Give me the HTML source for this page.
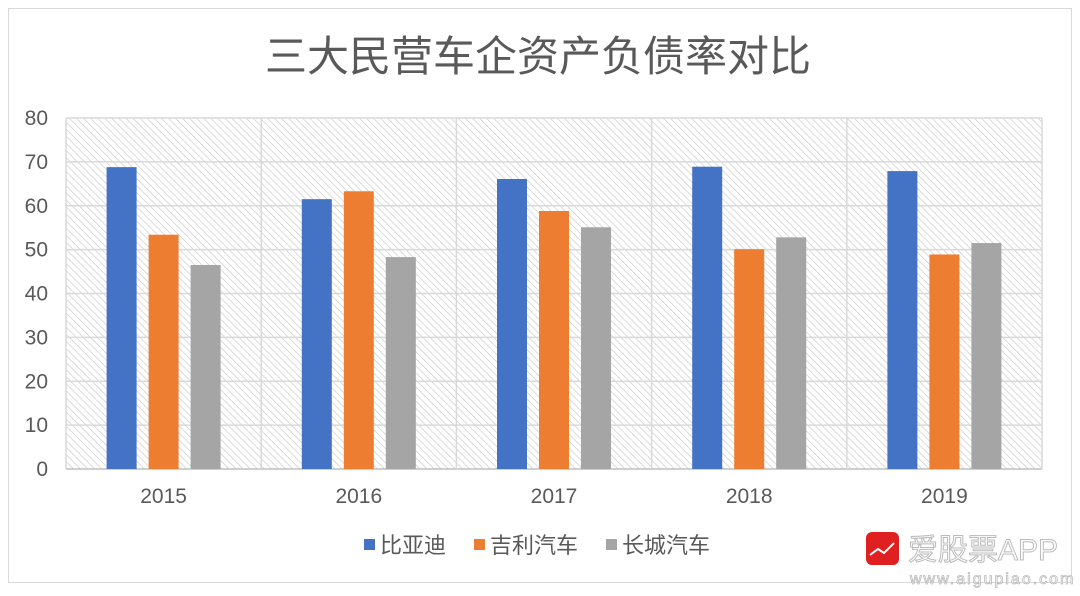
<!DOCTYPE html>
<html><head><meta charset="utf-8"><style>
body{margin:0;background:#fff;width:1080px;height:591px;overflow:hidden;font-family:"Liberation Sans","Noto Sans CJK SC",sans-serif}
</style></head><body>
<svg id="chart" width="1080" height="591" xmlns="http://www.w3.org/2000/svg" font-family="Liberation Sans, Noto Sans CJK SC, sans-serif">
<defs><pattern id="hatch" patternUnits="userSpaceOnUse" width="5" height="5" patternTransform="rotate(-45)"><rect width="5" height="5" fill="#fff"/><line x1="0" y1="0" x2="0" y2="5" stroke="#cfcfcf" stroke-width="1.5"/></pattern></defs>
<rect x="8.5" y="8.5" width="1063" height="574" fill="#fff" stroke="#d9d9d9"/>
<text x="538" y="71" font-size="42" fill="#595959" text-anchor="middle">三大民营车企资产负债率对比</text>
<rect x="66" y="118" width="976" height="351" fill="url(#hatch)"/>
<g id="grid"></g><g id="bars"></g><g id="ticks"></g>
<g font-size="22" fill="#595959">
<rect x="364" y="539" width="11" height="11" fill="#4472c4"/><text x="380" y="553">比亚迪</text>
<rect x="474" y="539" width="11" height="11" fill="#ed7d31"/><text x="490" y="553">吉利汽车</text>
<rect x="606" y="539" width="11" height="11" fill="#a5a5a5"/><text x="622" y="553">长城汽车</text>
</g>
<g>
<rect x="866" y="532" width="33" height="33" rx="6" fill="#e02020"/>
<polyline points="870,555 878,549 884,553 894,543" fill="none" stroke="#fff" stroke-width="2"/>
<text x="908" y="560" font-size="30" fill="#fff" stroke="#bbb" stroke-width="1">爱股票APP</text>
<text x="910" y="584" font-size="16" fill="#fff" stroke="#bbb" stroke-width="0.8" letter-spacing="2">www.aigupiao.com</text>
</g>
</svg>
<script>
const years=["2015","2016","2017","2018","2019"];
const byd=[68.8,61.5,66.1,68.9,67.9];
const geely=[53.4,63.3,58.8,50.1,48.9];
const greatwall=[46.5,48.3,55.1,52.8,51.5];
const yTicks=[0,10,20,30,40,50,60,70,80];
const NS="http://www.w3.org/2000/svg";
const X0=66,X1=1042,Y0=469,Y1=118,YMAX=80;
const yScale=v=>Y0-(v/YMAX)*(Y0-Y1);
const bw=(X1-X0)/years.length;
const xCenter=i=>X0+bw*(i+0.5);
function mk(t,a,p){const e=document.createElementNS(NS,t);for(const k in a)e.setAttribute(k,a[k]);p.appendChild(e);return e;}
const grid=document.getElementById('grid'),bars=document.getElementById('bars'),ticks=document.getElementById('ticks');
yTicks.forEach(v=>{
  const y=yScale(v);
  const l=mk('line',{x1:X0,x2:X1,y1:y,y2:y,stroke:v===0?'#bfbfbf':'#d9d9d9','stroke-width':1.5},grid);
  
  
  const t=mk('text',{x:48,y:y+7,'font-size':21,fill:'#595959','text-anchor':'end'},ticks);
  t.textContent=v;
  
  
});
for(let i=0;i<=years.length;i++){
  const x=X0+bw*i;
  const l=mk('line',{x1:x,x2:x,y1:Y1,y2:Y0,stroke:'#d9d9d9','stroke-width':1.5},grid);
  
  
}
const series=[[byd,'#4472c4','byd'],[geely,'#ed7d31','geely'],[greatwall,'#a5a5a5','greatwall']];
years.forEach((yr,i)=>{
  series.forEach((s,j)=>{
    const cx=xCenter(i)+(j-1)*42;
    const y=yScale(s[0][i]);
    const r=mk('rect',{x:cx-15,y:y,width:30,height:Y0-y,fill:s[1]},bars);
    
    
  });
  const t=mk('text',{x:xCenter(i),y:503,'font-size':21,fill:'#595959','text-anchor':'middle'},ticks);
  t.textContent=yr;
  
  
});
</script>
</body></html>
